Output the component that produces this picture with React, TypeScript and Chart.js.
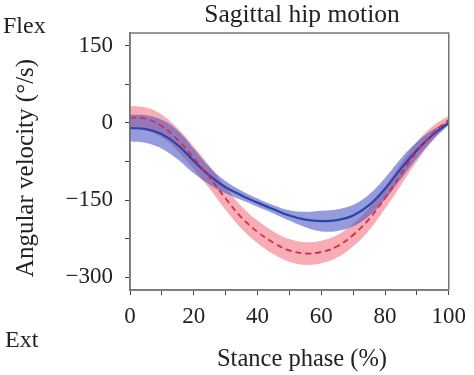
import React, { useEffect, useRef } from "react";
import { Chart, registerables } from "chart.js";

Chart.register(...registerables);

const phase = [0, 5, 10, 15, 20, 25, 30, 35, 40, 45, 50, 55, 60, 65, 70, 75, 80, 85, 90, 95, 100];
const blueMean = [-10, -12, -22, -43, -74, -103, -125, -141, -155, -168, -180, -188, -191, -189, -180, -160, -128, -89, -53, -23, 0];
const blueSd = [26, 27, 28, 28, 24, 17, 12, 9, 8, 8, 10, 15, 20, 21, 21, 21, 21, 20, 16, 10, 4];
const redMean = [11, 8, -6, -33, -68, -106, -147, -184, -212, -233, -248, -254, -251, -240, -218, -187, -146, -100, -56, -20, 6];
const redSd = [22, 22, 22, 22, 22, 22, 22, 22, 22, 22, 22, 22, 22, 22, 22, 22, 21, 21, 19, 14, 8];
const yTicks = [-300, -225, -150, -75, 0, 75, 150];
const xTicks = [0, 10, 20, 30, 40, 50, 60, 70, 80, 90, 100];

const FONT = "'Liberation Serif', 'Times New Roman', serif";

const pts = (ys: number[]) => phase.map((x, i) => ({ x, y: ys[i] }));

const textPlugin = {
  id: "texts",
  afterDraw(chart: any) {
    const { ctx, chartArea } = chart;
    ctx.save();
    ctx.strokeStyle = "#777";
    ctx.lineWidth = 1.5;
    ctx.strokeRect(chartArea.left, chartArea.top, chartArea.right - chartArea.left, chartArea.bottom - chartArea.top);
    ctx.fillStyle = "#222";
    ctx.textBaseline = "alphabetic";
    ctx.textAlign = "center";
    ctx.font = `25.5px ${FONT}`;
    ctx.fillText("Sagittal hip motion", 302, 22);
    ctx.font = `24.5px ${FONT}`;
    ctx.fillText("Stance phase (%)", 302, 366);
    ctx.textAlign = "left";
    ctx.font = `24px ${FONT}`;
    ctx.fillText("Flex", 3, 33);
    ctx.fillText("Ext", 5, 347);
    ctx.font = `25px ${FONT}`;
    ctx.translate(33, 168);
    ctx.rotate(-Math.PI / 2);
    ctx.textAlign = "center";
    ctx.fillText("Angular velocity (°/s)", 0, 0);
    ctx.restore();
  },
};

export default function App() {
  const ref = useRef<HTMLCanvasElement>(null);
  useEffect(() => {
    const band = (mean: number[], sd: number[], sign: number) => mean.map((m, i) => m + sign * sd[i]);
    const common = { pointRadius: 0, tension: 0.4 };
    const chart = new Chart(ref.current!, {
      type: "line",
      data: {
        datasets: [
          { ...common, data: pts(redMean), borderColor: "#d42c4c", borderWidth: 1.8, borderDash: [6, 4], fill: false },
          { ...common, data: pts(blueMean), borderColor: "#2f43a6", borderWidth: 2.2, fill: false },
          { ...common, data: pts(band(blueMean, blueSd, 1)), borderWidth: 0, fill: "+1", backgroundColor: "rgba(72,84,196,0.58)" },
          { ...common, data: pts(band(blueMean, blueSd, -1)), borderWidth: 0, fill: false },
          { ...common, data: pts(band(redMean, redSd, 1)), borderWidth: 0, fill: "+1", backgroundColor: "rgba(242,118,128,0.6)" },
          { ...common, data: pts(band(redMean, redSd, -1)), borderWidth: 0, fill: false },
        ],
      },
      options: {
        animation: false,
        responsive: true,
        maintainAspectRatio: false,
        layout: { padding: { top: 33, right: 24, left: 0, bottom: 0 } },
        plugins: { legend: { display: false }, tooltip: { enabled: false }, title: { display: false } },
        scales: {
          x: {
            type: "linear",
            min: 0,
            max: 100,
            afterBuildTicks: (s: any) => { s.ticks = xTicks.map((v) => ({ value: v })); },
            afterFit: (s: any) => { s.height = 85; },
            ticks: {
              autoSkip: false,
              maxRotation: 0,
              padding: 8,
              color: "#222",
              font: { family: FONT, size: 23 },
              callback: (v: any) => (Number(v) % 20 === 0 ? String(v) : ""),
            },
            grid: { drawOnChartArea: false, drawTicks: true, tickLength: 5, color: "#444" },
            border: { display: true, color: "#777", width: 1.5 },
          },
          y: {
            type: "linear",
            min: -325,
            max: 175,
            afterBuildTicks: (s: any) => { s.ticks = yTicks.map((v) => ({ value: v })); },
            afterFit: (s: any) => { s.width = 130; },
            ticks: {
              autoSkip: false,
              padding: 12,
              color: "#222",
              font: { family: FONT, size: 23 },
              callback: (v: any) => {
                const n = Number(v);
                if (n % 150 !== 0) return "";
                return n < 0 ? "\u2212" + Math.abs(n) : String(n);
              },
            },
            grid: { drawOnChartArea: false, drawTicks: true, tickLength: 5, color: "#444" },
            border: { display: true, color: "#777", width: 1.5 },
          },
        },
      },
      plugins: [textPlugin],
    });
    return () => chart.destroy();
  }, []);
  return (
    <div style={{ position: "fixed", left: 0, top: 0, width: 474, height: 375, background: "#fff" }}>
      <canvas ref={ref} />
    </div>
  );
}
